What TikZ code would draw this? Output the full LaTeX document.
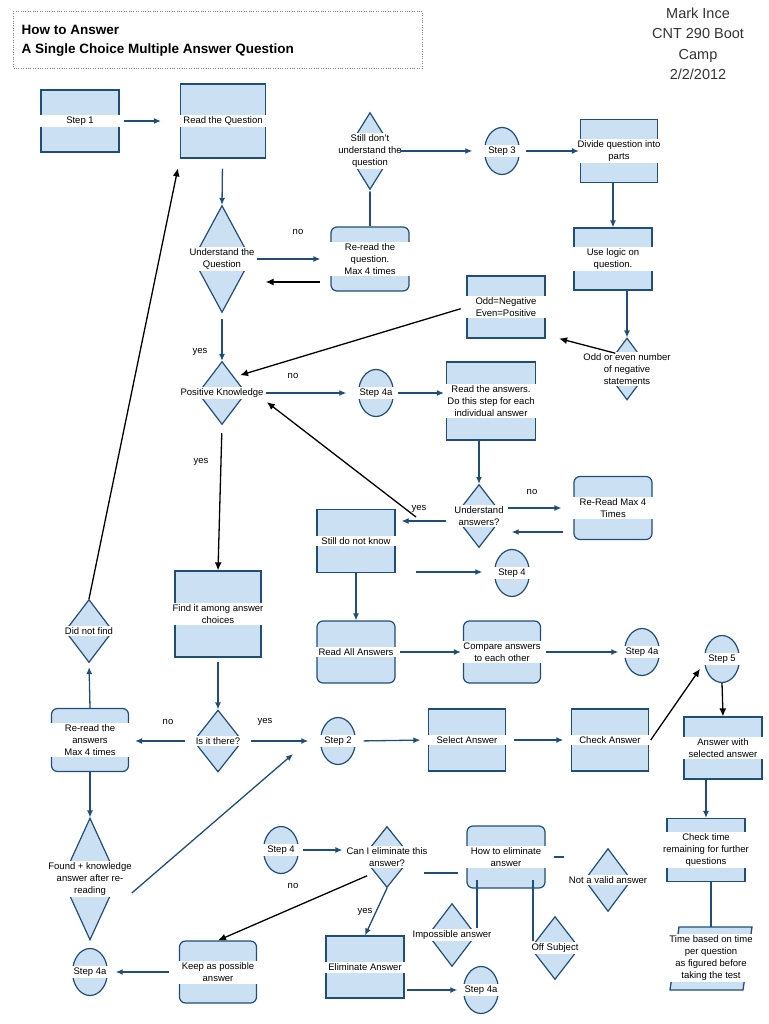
\documentclass[tikz,border=0pt]{standalone}
\usepackage{fontspec}
\setmainfont{Liberation Sans}
\usetikzlibrary{shapes.geometric,arrows.meta,calc}
\definecolor{navy}{HTML}{1F4E79}
\definecolor{lb}{HTML}{CCE0F4}
\newcommand\mkshape[7]{\node[#1,minimum width=#5pt,minimum height=#6pt] (#2) at (#3pt,-#4pt) {};
  \node[lab,minimum width={#5pt+4pt}] (#2t) at (#2) {#7};}
\begin{document}
\begin{tikzpicture}[x=1pt,y=1pt,
  base/.style={draw=navy,fill=lb,line width=1.2pt,inner sep=0pt},
  box/.style={base,rectangle},
  rbox/.style={base,rectangle,rounded corners=6pt},
  dia/.style={base,diamond},
  ell/.style={base,ellipse},
  lab/.style={fill=white,inner xsep=0pt,inner ysep=2pt,align=center,font=\fontsize{9.5}{12}\selectfont},
  arr/.style={-{Latex[length=7pt,width=6pt]},draw=navy,line width=1.3pt},
  barr/.style={-{Latex[length=8pt,width=7pt]},draw=black,line width=1.3pt},
  ln/.style={draw=navy,line width=1.3pt},
  yn/.style={font=\fontsize{9.5}{11}\selectfont}]
\useasboundingbox (0,0) rectangle (768,-1024);
% header
\draw[dotted,gray] (13,-11) rectangle (422,-68);
\node[anchor=west,font=\bfseries\fontsize{13.5}{15}\selectfont] at (18,-30) {How to Answer};
\node[anchor=west,font=\bfseries\fontsize{13.5}{15}\selectfont] at (18,-50) {A Single Choice Multiple Answer Question};
\node[align=center,font=\fontsize{14.5}{20.5}\selectfont,text=black!80] (auth) at (698,-44) {Mark Ince\\CNT 290 Boot\\Camp\\2/2/2012};
% shapes
\mkshape{box}{s1}{80}{121}{78}{62}{Step 1}
\mkshape{box}{rq}{223}{121}{85}{74}{Read the Question}
\mkshape{dia}{uq}{222}{259}{58}{107}{Understand the\\Question}
\mkshape{dia}{sd}{370}{151}{48}{77}{Still don't\\understand the\\question}
\mkshape{rbox}{rr}{370}{259}{78}{64}{Re-read the\\question.\\Max 4 times}
\mkshape{ell}{st3}{502}{151}{35}{47}{Step 3}
\mkshape{box}{dv}{619}{151}{77}{63}{Divide question into\\parts}
\mkshape{box}{ul}{613}{259}{78}{62}{Use logic on\\question.}
\mkshape{box}{oe}{506}{307}{78}{62}{Odd=Negative\\Even=Positive}
\mkshape{dia}{od}{627}{369}{46}{62}{Odd or even number\\of negative\\statements}
\mkshape{dia}{pk}{222}{393}{48}{63}{Positive Knowledge}
\mkshape{ell}{s4a}{376}{393}{35}{47}{Step 4a}
\mkshape{box}{ra}{491}{401}{89}{78}{Read the answers.\\Do this step for each\\individual answer}
\mkshape{dia}{ua}{479}{516}{49}{63}{Understand\\answers?}
\mkshape{rbox}{rm}{613}{508}{78}{63}{Re-Read Max 4\\Times}
\mkshape{box}{sk}{356}{541}{78}{63}{Still do not know}
\mkshape{ell}{s4}{512}{573}{35}{47}{Step 4}
\mkshape{box}{fi}{218}{614}{86}{86}{Find it among answer\\choices}
\mkshape{rbox}{raa}{356}{652}{78}{62}{Read All Answers}
\mkshape{rbox}{cmp}{502}{652}{77}{62}{Compare answers\\to each other}
\mkshape{ell}{s4b}{642}{652}{35}{47}{Step 4a}
\mkshape{ell}{s5}{722}{659}{35}{47}{Step 5}
\mkshape{dia}{dnf}{89}{631}{48}{63}{Did not find}
\mkshape{rbox}{rra}{90}{740}{77}{63}{Re-read the\\answers\\Max 4 times}
\mkshape{dia}{it}{218}{741}{49}{62}{Is it there?}
\mkshape{ell}{s2}{338}{741}{35}{47}{Step 2}
\mkshape{box}{sa}{467}{740}{77}{62}{Select Answer}
\mkshape{box}{ca}{610}{740}{77}{62}{Check Answer}
\mkshape{box}{aw}{723}{748}{78}{62}{Answer with\\selected answer}
\mkshape{box}{ct}{706}{850}{78}{63}{Check time\\remaining for further\\questions}
\mkshape{dia}{fk}{90}{879}{56}{122}{Found + knowledge\\answer after re-\\reading}
\mkshape{ell}{s4c}{281}{850}{35}{47}{Step 4}
\mkshape{dia}{ce}{387}{857}{49}{61}{Can I eliminate this\\answer?}
\mkshape{rbox}{he}{506}{857}{78}{62}{How to eliminate\\answer}
\mkshape{dia}{nv}{608}{880}{47}{63}{Not a valid answer}
\mkshape{dia}{ia}{452}{935}{48}{63}{Impossible answer}
\mkshape{dia}{os}{555}{948}{49}{63}{Off Subject}
\mkshape{ell}{s4d}{90}{972}{35}{47}{Step 4a}
\mkshape{rbox}{kp}{218}{972}{77}{62}{Keep as possible\\answer}
\mkshape{box}{ea}{365}{967}{78}{62}{Eliminate Answer}
\mkshape{ell}{s4e}{481}{990}{35}{47}{Step 4a}
% parallelogram
\coordinate (tb) at (711,-958);
\draw[ln,fill=lb] (679,-927) -- (752,-927) -- (743,-990) -- (670,-990) -- cycle;
\node[lab,minimum width=80pt] (tbt) at (tb) {Time based on time\\per question\\as figured before\\taking the test};
% connectors
\draw[arr,shorten <=4pt,shorten >=19pt] (s1) -- (rq);
\draw[arr,shorten <=10pt] (rq) -- (uq.north);
\draw[arr,shorten <=2pt,shorten >=10pt] (uqt.east) -- (rr.west|-uqt.east);
\draw[barr,shorten >=14pt,shorten <=10pt] (rr.west|-0,-282) -- (uq.east|-0,-282);
\draw[ln,-{Latex[length=3pt]}] (rr.north) -- (sd.south);
\draw[arr,shorten <=-2pt,shorten >=10pt] (sdt.east) -- (st3t.west);
\draw[arr,shorten <=4pt,shorten >=1pt] (st3t.east) -- (dv.west|-st3t.east);
\draw[arr] (dv.south-|ul.north) -- (ul.north);
\draw[arr] (ul.south-|od.north) -- (od.north);
\draw[barr,shorten >=14pt] (od.north west) -- (oe.east|-0,-335);
\draw[barr,shorten <=6pt,shorten >=6pt] (oe.west) -- (pk.north east);
\draw[arr,shorten <=6pt] (uq.south) -- (pk.north);
\draw[arr,shorten <=2pt,shorten >=10pt] (pkt.east) -- (s4at.west);
\draw[arr,shorten <=2pt,shorten >=2pt] (s4at.east) -- (ra.west|-s4at.east);
\draw[arr] (ra.south-|ua.north) -- (ua.north);
\draw[arr,shorten <=2pt,shorten >=12pt] (uat.east|-0,-508) -- (rm.west|-0,-508);
\draw[arr,shorten <=10pt,shorten >=6pt] (rm.west|-0,-532) -- (uat.east|-0,-532);
\draw[arr,shorten <=6pt,shorten >=6pt] (uat.west|-0,-521) -- (sk.east|-0,-521);
\draw[barr,shorten >=4pt] (416,-517) coordinate (bk) -- (pkt.south east);
\draw[barr,shorten <=8pt] (pk.south) -- (fi.north);
\draw[arr,shorten <=20pt,shorten >=10pt] (sk.east|-0,-572) -- (s4t.west|-0,-572);
\draw[arr] (sk.south) -- (raa.north);
\draw[arr,shorten <=3pt,shorten >=2pt] (raat.east) -- (cmp.west|-raat.east);
\draw[arr,shorten <=3pt,shorten >=4pt] (cmpt.east|-cmp) -- (s4bt.west);
\draw[arr,shorten <=4pt] (fi.south) -- (it.north);
\draw[arr,shorten <=6pt,shorten >=6pt] (itt.west) -- (rra.east|-itt.west);
\draw[arr,shorten <=6pt,shorten >=10pt] (itt.east) -- (s2t.west);
\draw[arr,shorten >=4pt] (rra.north) -- (dnf.south);
\draw[barr,shorten >=10pt] (dnf.north) -- (rq.south west);
\draw[arr] (rra.south) -- (fk.north);
\draw[arr] (fkt.east|-0,-893) -- (293,-754) coordinate (s2in);
\draw[arr,shorten <=6pt,shorten >=6pt] (s2t.east) -- (sat.west);
\draw[arr,shorten <=6pt,shorten >=6pt] (sat.east) -- (cat.west);
\draw[barr,shorten >=4pt] (cat.east) -- (s5t.south west);
\draw[barr] (s5.south) -- (aw.north);
\draw[arr] (aw.south-|ct.north) -- (ct.north);
\draw[ln] (ct.south-|tb) -- (tb|-0,-927);
\draw[arr,shorten <=2pt,shorten >=4pt] (s4ct.east) -- (cet.west|-s4ct.east);
\draw[ln,shorten <=12pt,shorten >=8pt] (ce.east|-0,-873) -- (he.west|-0,-873);
\draw[ln,shorten <=8pt,shorten >=20pt] (he.east|-0,-857) -- (nv.west|-0,-857);
\draw[ln] (477,-880) coordinate (h1) -- (h1|-iat.north);
\draw[ln] (533,-880) coordinate (h2) -- (h2|-ost.north);
\draw[barr,shorten <=8pt] (ce.south west) -- (kp.north);
\draw[arr] (ce.south) -- (ea.north);
\draw[arr,shorten <=2pt,shorten >=4pt] (ea.east|-0,-990) -- (s4et.west);
\draw[arr,shorten <=10pt,shorten >=6pt] (kp.west) -- (s4dt.east);
% yes/no labels
\node[yn] (n1) at (298,-232) {no};
\node[yn] (y1) at (200,-352) {yes};
\node[yn] (n2) at (293,-376) {no};
\node[yn] (y2) at (201,-462) {yes};
\node[yn] (n3) at (532,-492) {no};
\node[yn] (y3) at (419,-509) {yes};
\node[yn] (n4) at (168,-722) {no};
\node[yn] (y4) at (265,-722) {yes};
\node[yn] (n5) at (293,-886) {no};
\node[yn] (y5) at (365,-912) {yes};
\end{tikzpicture}
\end{document}
